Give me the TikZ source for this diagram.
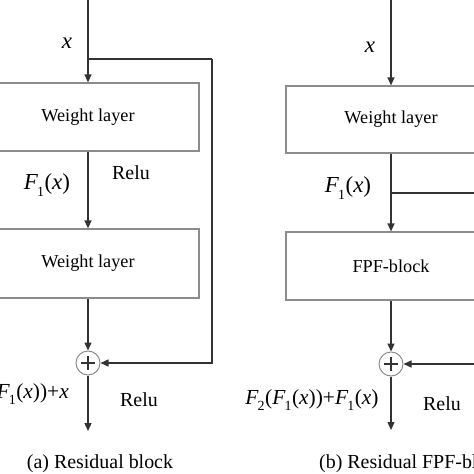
\documentclass[tikz,border=0pt]{standalone}
\usepackage{fontspec}
\setmainfont{Liberation Serif}
\usetikzlibrary{arrows.meta,calc}
\newcommand{\Fi}[1]{\textit{F}\kern-1pt\textsubscript{\raisebox{-0.5ex}{\fontsize{14}{14}\selectfont #1}}}
\newcommand{\vx}{\textit{x}}
\tikzset{
  wire/.style={draw=black!80, line width=1.3bp},
  arr/.style={wire, -{Triangle[length=8bp,width=7bp]}},
  layerbox/.style={draw=black!45, line width=1.2bp, fill=white, inner sep=0pt, font=\fontsize{18.3}{20}\selectfont},
  sumnode/.style={circle, draw=black!45, line width=1bp, minimum size=24bp, inner sep=0pt},
  plusbar/.style={draw=black!80, line width=1.1bp},
  lbl/.style={inner sep=0pt, font=\fontsize{20}{22}\selectfont},
  mlbl/.style={inner sep=0pt, font=\fontsize{23}{25}\selectfont},
  slbl/.style={inner sep=0pt, font=\fontsize{21.5}{24}\selectfont},
}
\begin{document}
\begin{tikzpicture}[x=1bp,y=-1bp]
\useasboundingbox (0,0) rectangle (474,474);
\clip (0,0) rectangle (474,474);
% ---------- (a) ----------
\coordinate (atop) at (88,-2);
\coordinate (asplit) at (88,59);
\coordinate (acorner) at (212,59);
\coordinate (aout) at (88,431);
\node[layerbox, minimum width=222bp, minimum height=68bp] (ab1) at (88,117) {Weight layer};
\node[layerbox, minimum width=222bp, minimum height=69bp] (ab2) at (88,263.5) {Weight layer};
\node[sumnode] (as) at (88,363) {};
\draw[plusbar] ($(as.center)+(-7,0)$) -- ($(as.center)+(7,0)$);
\draw[plusbar] ($(as.center)+(0,-7)$) -- ($(as.center)+(0,7)$);
\draw[arr] (atop) -- (ab1.north);
\draw[wire] (asplit) -- (acorner);
\draw[arr] (acorner) |- (as.east);
\draw[arr] (ab1.south) -- (ab2.north);
\draw[arr] (ab2.south) -- (as.north);
\draw[arr] (as.south) -- (aout);
\node[mlbl] (ax) at (67,43) {\vx};
\node[mlbl] (af1) at (47,185) {\Fi{1}(\vx)};
\node[lbl] (arelu1) at (131,173) {Relu};
\node[lbl] (arelu2) at (139,400) {Relu};
\node[slbl, anchor=east] (asum) at (69,394) {\Fi{2}(\Fi{1}(\vx))+\vx};
\node[lbl] (acap) at (100,464) {(a) Residual block};
% ---------- (b) ----------
\coordinate (btop) at (391,-2);
\coordinate (bsplit) at (391,193);
\coordinate (bright) at (480,193);
\coordinate (bin) at (480,364);
\coordinate (bout) at (391,430);
\node[layerbox, minimum width=210bp, minimum height=67bp] (bb1) at (391,119.5) {Weight layer};
\node[layerbox, minimum width=210bp, minimum height=68bp] (bb2) at (391,266) {FPF-block};
\node[sumnode] (bs) at (391,364) {};
\draw[plusbar] ($(bs.center)+(-7,0)$) -- ($(bs.center)+(7,0)$);
\draw[plusbar] ($(bs.center)+(0,-7)$) -- ($(bs.center)+(0,7)$);
\draw[arr] (btop) -- (bb1.north);
\draw[arr] (bb1.south) -- (bb2.north);
\draw[wire] (bsplit) -- (bright);
\draw[arr] (bin) -- (bs.east);
\draw[arr] (bb2.south) -- (bs.north);
\draw[arr] (bs.south) -- (bout);
\node[mlbl] (bx) at (370,47) {\vx};
\node[mlbl] (bf1) at (348,188) {\Fi{1}(\vx)};
\node[slbl] (bsum) at (312,400) {\Fi{2}(\Fi{1}(\vx))+\Fi{1}(\vx)};
\node[lbl] (brelu) at (442,404) {Relu};
\node[lbl, anchor=west] (bcap) at (319,464) {(b) Residual FPF-block};
\end{tikzpicture}
\end{document}
